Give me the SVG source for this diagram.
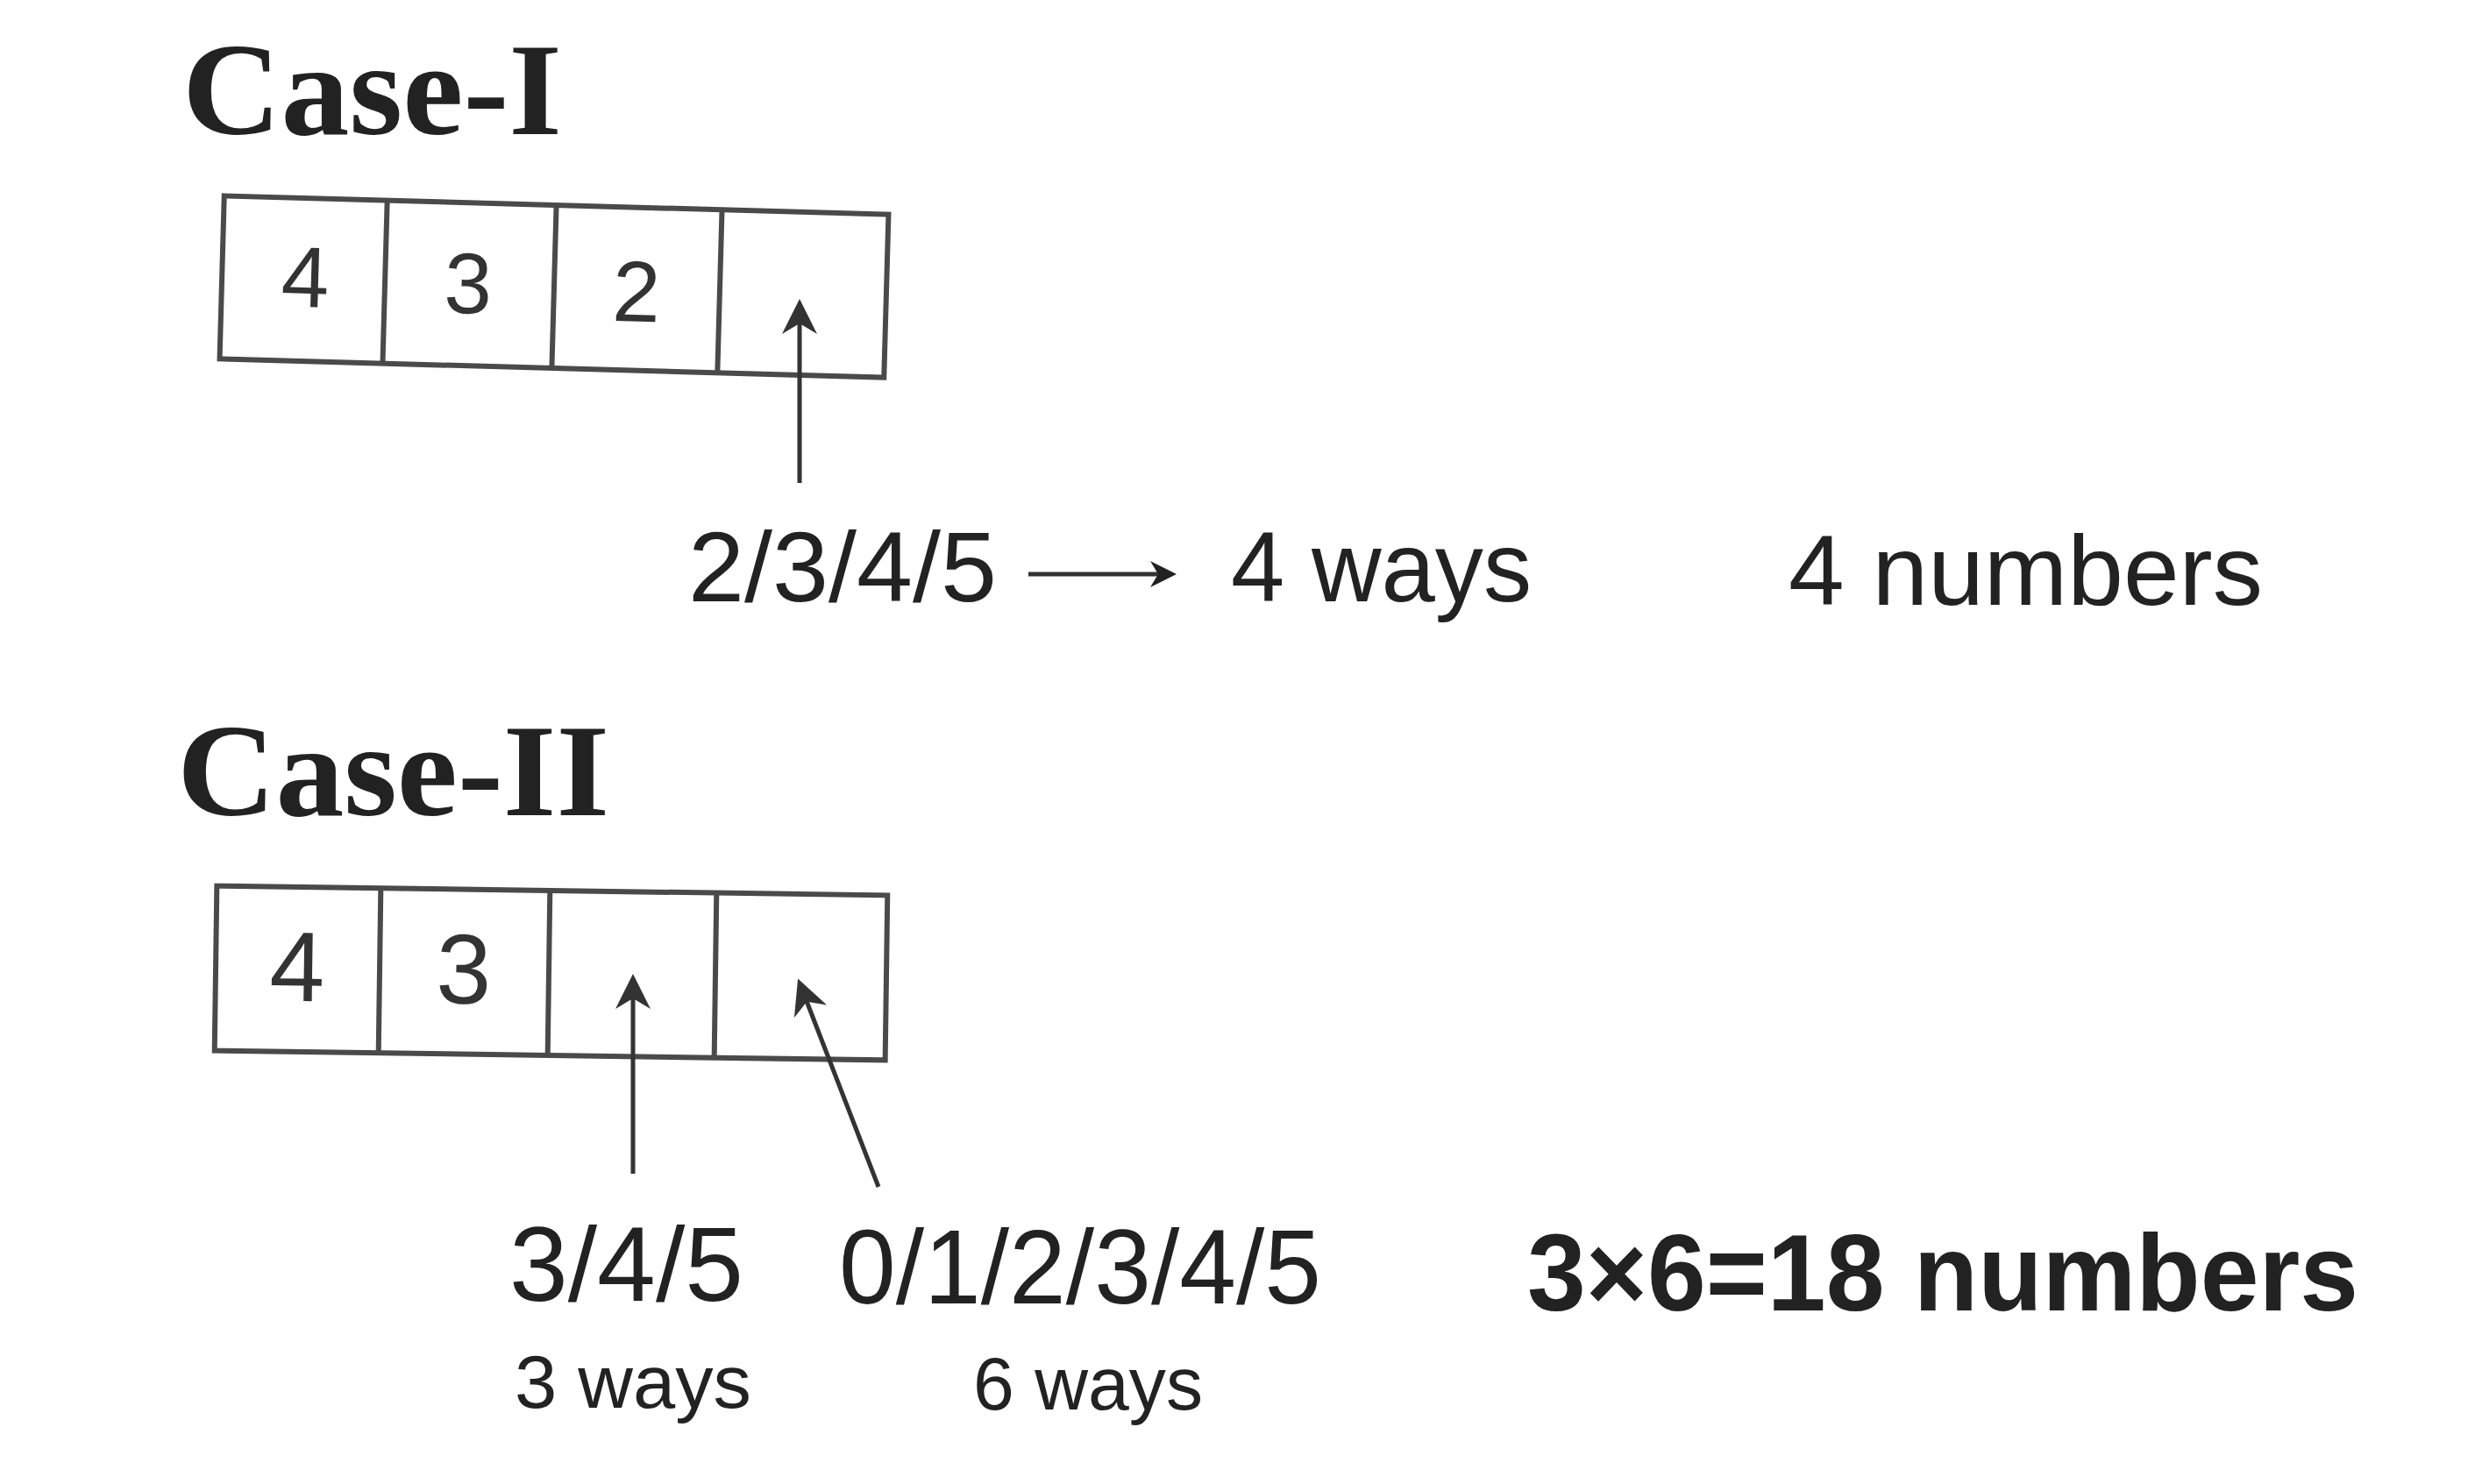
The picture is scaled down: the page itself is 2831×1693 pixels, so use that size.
<svg xmlns="http://www.w3.org/2000/svg" width="2831" height="1693" viewBox="0 0 2831 1693">
<style>
.title{font-family:"Liberation Serif","Times New Roman",serif;font-weight:bold;font-size:150px;fill:#222}
.lbl{font-family:"Liberation Sans",Arial,sans-serif;fill:#222}
.box{fill:none;stroke:#4a4a4a;stroke-width:6}
.digit{font-family:"Liberation Sans",Arial,sans-serif;fill:#333;text-anchor:middle}
.conn{fill:none;stroke:#333;stroke-width:5}
</style>
<defs>
<marker id="ah" viewBox="0 0 10 10" refX="8" refY="5" markerWidth="8" markerHeight="8" orient="auto" markerUnits="strokeWidth">
<path d="M0,0 L10,5 L0,10 L3,5 Z" fill="#333"/>
</marker>
<marker id="ahs" viewBox="0 0 10 10" refX="8" refY="5" markerWidth="6" markerHeight="6" orient="auto" markerUnits="strokeWidth">
<path d="M0,0 L10,5 L0,10 L3,5 Z" fill="#222"/>
</marker>
</defs>
<rect width="2831" height="1693" fill="#ffffff"/>

<g id="case1-title"><text class="title" x="208" y="153" textLength="433" lengthAdjust="spacingAndGlyphs">Case-I</text></g>

<g id="case1-boxes" transform="rotate(1.6 632 327)">
<rect class="box" x="253" y="234" width="758" height="186"/>
<line class="box" x1="439" y1="234" x2="439" y2="420"/>
<line class="box" x1="632" y1="234" x2="632" y2="420"/>
<line class="box" x1="821" y1="234" x2="821" y2="420"/>
<text class="digit" x="348" y="358" font-size="98">4</text>
<text class="digit" x="534" y="360" font-size="98">3</text>
<text class="digit" x="726" y="364" font-size="98">2</text>
</g>

<g id="case1-labels">
<text class="lbl" x="785" y="686" font-size="113" textLength="352" lengthAdjust="spacingAndGlyphs">2/3/4/5</text>
<text class="lbl" x="1404" y="686" font-size="113" textLength="343" lengthAdjust="spacingAndGlyphs">4 ways</text>
<text class="lbl" x="2040" y="690" font-size="113" textLength="541" lengthAdjust="spacingAndGlyphs">4 numbers</text>
</g>

<g id="case2-title"><text class="title" x="202" y="930" textLength="493" lengthAdjust="spacingAndGlyphs">Case-II</text></g>

<g id="case2-boxes" transform="rotate(0.8 628 1110)">
<rect class="box" x="246" y="1016" width="765" height="188"/>
<line class="box" x1="433" y1="1016" x2="433" y2="1204"/>
<line class="box" x1="626" y1="1016" x2="626" y2="1204"/>
<line class="box" x1="816" y1="1016" x2="816" y2="1204"/>
<text class="digit" x="339" y="1146" font-size="113" fill="#111">4</text>
<text class="digit" x="529" y="1146" font-size="113" fill="#111">3</text>
</g>

<g id="case2-labels">
<text class="lbl" x="581" y="1484" font-size="121" textLength="267" lengthAdjust="spacingAndGlyphs">3/4/5</text>
<text class="lbl" x="957" y="1487" font-size="121" textLength="550" lengthAdjust="spacingAndGlyphs">0/1/2/3/4/5</text>
<text class="lbl" x="587" y="1606" font-size="86" textLength="270" lengthAdjust="spacingAndGlyphs">3 ways</text>
<text class="lbl" x="1110" y="1608" font-size="86" textLength="262" lengthAdjust="spacingAndGlyphs">6 ways</text>
<text class="lbl" x="1742" y="1495" font-size="124" font-weight="bold" fill="#111" textLength="948" lengthAdjust="spacingAndGlyphs">3×6=18 numbers</text>
</g>

<g id="connectors">
<line class="conn" x1="912" y1="551" x2="912" y2="349" marker-end="url(#ah)"/>
<line class="conn" x1="1173" y1="655" x2="1336" y2="655" marker-end="url(#ahs)"/>
<line class="conn" x1="722" y1="1339" x2="722" y2="1119" marker-end="url(#ah)"/>
<line class="conn" x1="1002" y1="1354" x2="913" y2="1124" marker-end="url(#ah)"/>
</g>
</svg>
